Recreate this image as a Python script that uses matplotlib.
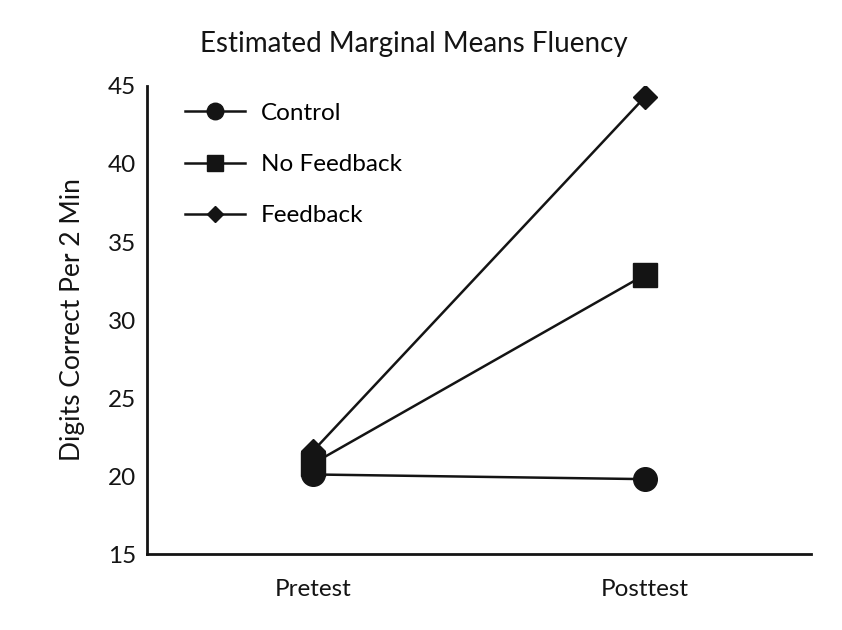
import matplotlib
matplotlib.use("Agg")
import matplotlib.pyplot as plt

plt.rcParams['font.family'] = ['Lato', 'DejaVu Sans']

times = ["Pretest", "Posttest"]
control = [20.1, 19.8]
no_feedback = [20.8, 32.9]
feedback = [21.6, 44.3]
yticks = [15, 20, 25, 30, 35, 40, 45]

ink = "#141414"
fig = plt.figure(figsize=(8.42, 6.3), dpi=100)
ax = fig.add_axes([0.1746, 0.1206, 0.7886, 0.7429])

x = range(len(times))
ax.plot(x, feedback, color=ink, lw=1.8, marker="D", ms=12, label="Feedback", zorder=3)
ax.plot(x, no_feedback, color=ink, lw=1.8, marker="s", ms=17, label="No Feedback", zorder=3)
ax.plot(x, control, color=ink, lw=1.8, marker="o", ms=17, label="Control", zorder=3)

ax.set_xlim(-0.5, 1.5)
ax.set_ylim(15, 45)
ax.set_xticks(list(x))
ax.set_xticklabels(times)
ax.set_yticks(yticks)
ax.tick_params(length=0, labelsize=17.5, colors=ink)
ax.tick_params(axis="y", pad=8)
ax.tick_params(axis="x", pad=18)
for s in ["top", "right"]:
    ax.spines[s].set_visible(False)
for s in ["left", "bottom"]:
    ax.spines[s].set_linewidth(2)
    ax.spines[s].set_color(ink)

ax.set_ylabel("Digits Correct Per 2 Min", fontsize=19, color=ink, labelpad=16)
fig.text(0.492, 0.93, "Estimated Marginal Means Fluency", ha="center", va="center",
         fontsize=20, color=ink)

h, l = ax.get_legend_handles_labels()
ax.legend(h[::-1], l[::-1], loc="upper left", bbox_to_anchor=(0.2197, 0.837),
          bbox_transform=fig.transFigure, frameon=False, fontsize=17.5,
          markerscale=0.7, handlelength=2.47, handletextpad=0.66,
          labelspacing=1.25, borderpad=0, borderaxespad=0)

fig.savefig("out.png", dpi=100)
